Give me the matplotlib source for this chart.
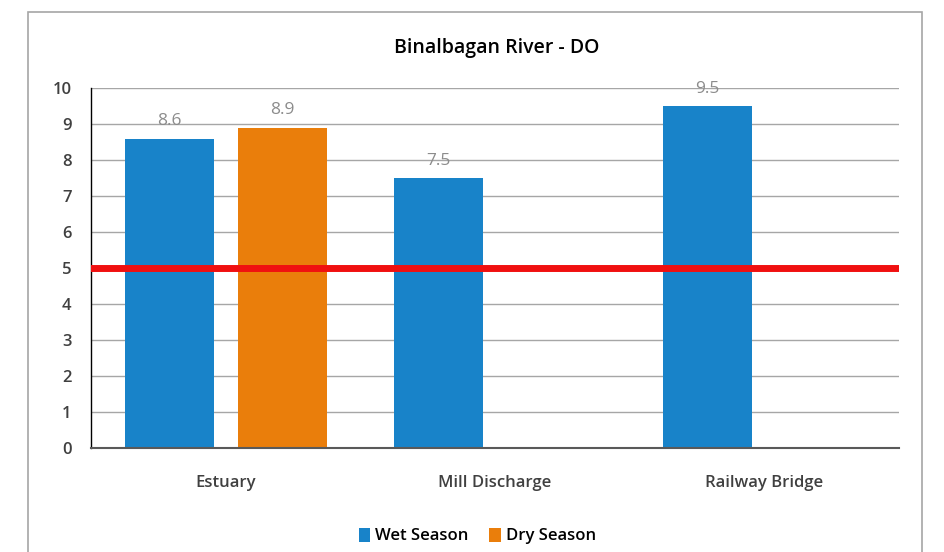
import matplotlib.pyplot as plt
import numpy as np
from matplotlib.patches import Rectangle

categories = ['Estuary', 'Mill Discharge', 'Railway Bridge']
wet_season = [8.6, 7.5, 9.5]
dry_season = [8.9, np.nan, np.nan]
do_standard = 5

plt.rcParams['font.family'] = ['Open Sans', 'DejaVu Sans']
plt.rcParams['font.weight'] = 'semibold'

fig = plt.figure(figsize=(9.45, 5.52), dpi=100)
ax = fig.add_axes([91 / 945, 1 - 447.7 / 552, 808 / 945, 359.4 / 552])

# outer chart border
fig.patches.append(Rectangle((28 / 945, -0.02), 894 / 945, 1.02 - 12 / 552,
                             transform=fig.transFigure, fill=False,
                             edgecolor='#a6a6a6', linewidth=1.2))

x = np.arange(len(categories))
width = 0.33
offset = 0.21

wet_bars = ax.bar(x - offset, wet_season, width, color='#1883c9', label='Wet Season', zorder=2)
dry_bars = ax.bar(x + offset, dry_season, width, color='#ea7e0b', label='Dry Season', zorder=2)

# data labels
for bars, vals in ((wet_bars, wet_season), (dry_bars, dry_season)):
    for bar, v in zip(bars, vals):
        if np.isnan(v):
            continue
        ax.text(bar.get_x() + bar.get_width() / 2, v + 0.26, f'{v:.1f}',
                ha='center', va='bottom', fontsize=12.5, fontweight='normal',
                color='#8c8c8c', zorder=3)

ax.axhline(do_standard, color='#f01010', linewidth=5, zorder=4)

ax.set_xlim(-0.5, len(categories) - 0.5)
ax.set_ylim(0, 10)
ax.set_yticks(range(0, 11))
ax.set_xticks(x)
ax.set_xticklabels(categories)
ax.tick_params(axis='both', length=0, labelsize=12, labelcolor='#404040')
ax.tick_params(axis='x', pad=20)
ax.tick_params(axis='y', pad=14)

ax.grid(axis='y', color='#a6a6a6', linewidth=1, zorder=0)
ax.set_axisbelow(True)
for s in ('top', 'right'):
    ax.spines[s].set_visible(False)
ax.spines['left'].set_color('#000000')
ax.spines['left'].set_linewidth(1)
ax.spines['bottom'].set_color('#595959')
ax.spines['bottom'].set_linewidth(1.5)

fig.text(0.526, 1 - 48 / 552, 'Binalbagan River - DO', ha='center', va='center',
         fontsize=14, color='#000000')

fig.legend(handles=[wet_bars, dry_bars], loc='center', bbox_to_anchor=(0.505, 1 - 536 / 552),
           ncol=2, frameon=False, fontsize=12, handlelength=0.7, handleheight=0.9,
           handletextpad=0.3, columnspacing=1.2, labelcolor='#000000')

fig.savefig('out.png', dpi=100)
